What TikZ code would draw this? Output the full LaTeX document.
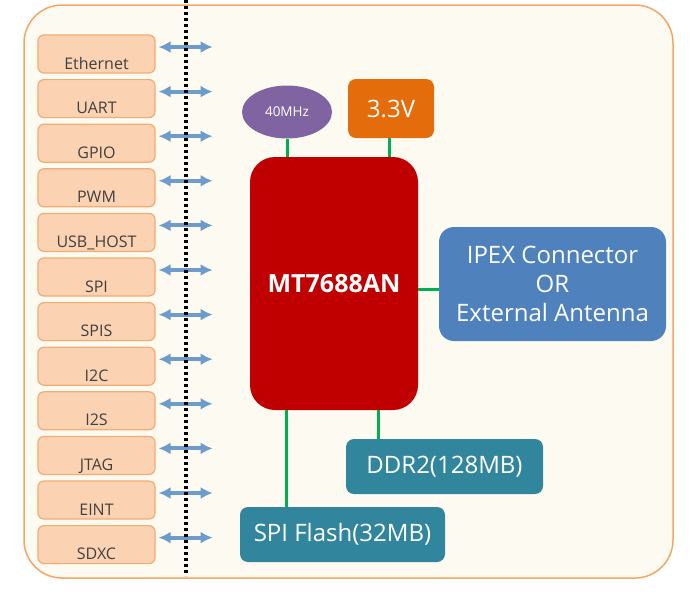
\documentclass[tikz,border=0pt]{standalone}
\usepackage{fontspec}
\setmainfont{Open Sans}
\usetikzlibrary{arrows.meta,positioning,shapes.geometric}

\definecolor{frameline}{HTML}{F2A766}
\definecolor{framefill}{HTML}{FCFAF1}
\definecolor{ifill}{HTML}{FBD3B2}
\definecolor{iline}{HTML}{F2AC72}
\definecolor{arrowblue}{HTML}{6D9BCB}
\definecolor{chipred}{HTML}{C00000}
\definecolor{oscpurple}{HTML}{8064A2}
\definecolor{pwrorange}{HTML}{E46C0A}
\definecolor{antblue}{HTML}{4F81BD}
\definecolor{memteal}{HTML}{31859C}
\definecolor{busgreen}{HTML}{00B050}

\tikzset{
	ifbox/.style={draw=iline,fill=ifill,line width=1.2pt,rounded corners=6pt,
		minimum width=117pt,minimum height=38pt,inner sep=0pt,
		text height=30pt,text depth=0pt,text=black!75,font=\fontsize{16}{18}\selectfont},
	ioarrow/.style={{Latex[length=12pt,width=12pt]}-{Latex[length=12pt,width=12pt]},
		line width=4pt,arrowblue},
	block/.style={rounded corners=8pt,inner sep=0pt,text=white,align=center},
	bus/.style={busgreen,line width=3pt}
}

\begin{document}
\begin{tikzpicture}[x=1pt,y=-1pt]
	\useasboundingbox (0,0) rectangle (690,598);
	\draw[frameline,fill=framefill,line width=1.5pt,rounded corners=38pt] (24,5) rectangle (673,578);

	% interface boxes
	\foreach \name [count=\i] in {Ethernet,UART,GPIO,PWM,USB\_HOST,SPI,SPIS,I2C,I2S,JTAG,EINT,SDXC} {
		\node[ifbox] (p\i) at (96.5,{54+(\i-1)*44.6}) {\name};
		\draw[ioarrow] ([xshift=3pt,yshift=7pt]p\i.east) -- ++(54,0);
	}
	\draw[line width=3.5pt,dash pattern=on 3pt off 3pt] (186,0) -- (186,576);

	\node[block,fill=chipred,rounded corners=25pt,minimum width=168pt,minimum height=253pt,
		font=\bfseries\fontsize{25}{30}\selectfont] (chip) at (334,283.5) {MT7688AN};
	\node[ellipse,fill=oscpurple,minimum width=90pt,minimum height=53pt,inner sep=0pt,
		text=white,font=\fontsize{13.5}{16}\selectfont] (osc) at (287,112) {40MHz};
	\node[block,fill=pwrorange,minimum width=86pt,minimum height=59pt,
		font=\fontsize{24}{28}\selectfont] (pwr) at (391,108.5) {3.3V};
	\node[block,fill=antblue,rounded corners=15pt,minimum width=227pt,minimum height=114pt,
		font=\fontsize{24}{29}\selectfont] (ant) at (552.5,284) {IPEX Connector\\OR\\External Antenna};
	\node[block,fill=memteal,minimum width=197pt,minimum height=55pt,
		font=\fontsize{24}{28}\selectfont] (ddr) at (444.5,466.5) {DDR2(128MB)};
	\node[block,fill=memteal,minimum width=205pt,minimum height=55pt,
		font=\fontsize{24}{28}\selectfont] (flash) at (342.5,534.5) {SPI Flash(32MB)};

	% buses
	\draw[bus] (osc.south) -- (osc.south |- chip.north);
	\draw[bus] ([xshift=-2pt]pwr.south) -- ([xshift=-2pt]pwr.south |- chip.north);
	\draw[bus] ([yshift=-5pt]ant.west) -- ([yshift=-5pt]ant.west -| chip.east);
	\draw[bus] ([xshift=33pt]ddr.north west) -- ([xshift=33pt]ddr.north west |- chip.south);
	\draw[bus] ([xshift=47pt]flash.north west) -- ([xshift=47pt]flash.north west |- chip.south);
\end{tikzpicture}
\end{document}
